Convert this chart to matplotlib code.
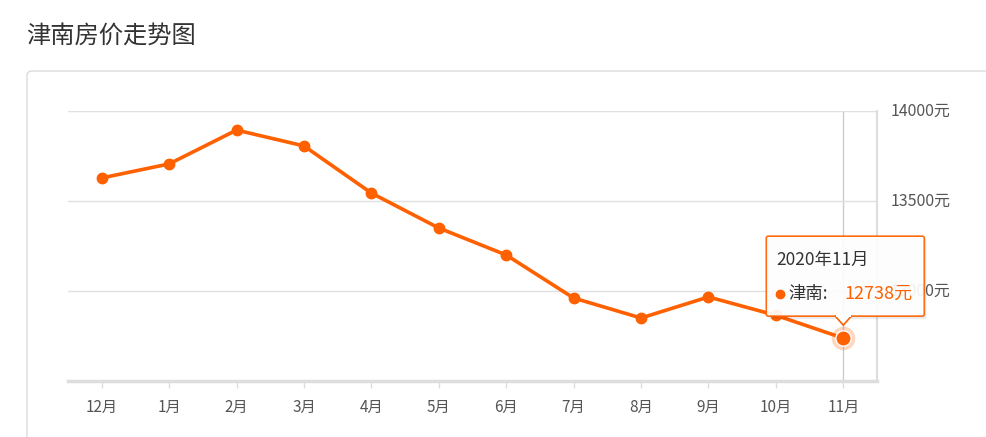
import matplotlib
matplotlib.use("Agg")
import matplotlib.pyplot as plt
from matplotlib.patches import FancyBboxPatch, Polygon, Rectangle

plt.rcParams['font.family'] = ['Noto Sans CJK SC', 'DejaVu Sans']

# data
months = ['12月', '1月', '2月', '3月', '4月', '5月', '6月', '7月', '8月', '9月', '10月', '11月']
prices = [13628, 13706, 13894, 13806, 13544, 13350, 13200, 12961, 12850, 12967, 12865, 12738]
y_ticks = [12500, 13000, 13500, 14000]
y_labels = ['', '13000元', '13500元', '14000元']
title = '津南房价走势图'
tip_title = '2020年11月'
tip_name = '津南:'
tip_value = '12738元'

W, H = 987, 437
orange = '#ff6000'
fig = plt.figure(figsize=(W / 100, H / 100), dpi=100)

# background layer in pixel coordinates
bg = fig.add_axes([0, 0, 1, 1], zorder=0)
bg.set_xlim(0, W)
bg.set_ylim(H, 0)
bg.axis('off')
bg.add_patch(FancyBboxPatch((27, 71), 1000, 420, boxstyle='round,pad=0,rounding_size=5',
                            fc='white', ec='#dcdcdc', lw=1))
bg.text(26, 36, title, fontsize=17.5, color='#333333', va='center', ha='left')

# main chart
ax = fig.add_axes([68 / W, (H - 381) / H, 809 / W, 270 / H], zorder=1)
ax.patch.set_alpha(0)
x = list(range(len(months)))
ax.set_xlim(-0.5, len(months) - 0.5)
ax.set_ylim(y_ticks[0], y_ticks[-1])
ax.set_yticks(y_ticks)
ax.set_yticklabels(y_labels)
ax.yaxis.tick_right()
ax.tick_params(axis='y', length=0, pad=10, labelsize=11.5, labelcolor='#555555')
ax.set_xticks(x)
ax.set_xticklabels(months)
ax.tick_params(axis='x', length=5, color='#dddddd', width=1, pad=8, labelsize=11, labelcolor='#555555')
for t in ax.get_yticklabels():
    t.set_va('center')
ax.grid(axis='y', color='#e0e0e0', lw=1)
for s in ['top', 'left']:
    ax.spines[s].set_visible(False)
ax.spines['bottom'].set_color('#dddddd')
ax.spines['bottom'].set_linewidth(2.5)
ax.spines['right'].set_color('#dddddd')
ax.spines['right'].set_linewidth(1.5)

# crosshair at last point
ax.axvline(x[-1], color='#cccccc', lw=1, zorder=1)

ax.plot(x, prices, color=orange, lw=2.6, marker='o', markersize=7.5, zorder=3, clip_on=False)
# highlighted last point
ax.plot(x[-1], prices[-1], 'o', color=orange, markersize=17, alpha=0.25, zorder=4, mec='none')
ax.plot(x[-1], prices[-1], 'o', color=orange, markersize=11, zorder=5, mec='white', mew=1)

# tooltip layer
top = fig.add_axes([0, 0, 1, 1], zorder=2)
top.set_xlim(0, W)
top.set_ylim(H, 0)
top.axis('off')
px, py = ax.transData.transform((x[-1], prices[-1]))
px_fig = px
py_fig = H - py
bx0, bx1 = px_fig - 77, px_fig + 81
by0, by1 = py_fig - 102, py_fig - 22
# shadow
top.add_patch(FancyBboxPatch((bx0 + 2, by0 + 3), bx1 - bx0, by1 - by0,
                             boxstyle='round,pad=0,rounding_size=2', fc='#000000', alpha=0.08, ec='none'))
top.add_patch(FancyBboxPatch((bx0, by0), bx1 - bx0, by1 - by0,
                             boxstyle='round,pad=0,rounding_size=2', fc='white', alpha=0.92,
                             ec=orange, lw=1.2))
top.add_patch(Polygon([(px_fig - 8, by1), (px_fig, by1 + 9), (px_fig + 8, by1)], closed=True,
                      fc='white', ec=orange, lw=1.2))
top.add_patch(Rectangle((px_fig - 7.5, by1 - 2), 15, 2.6, fc='white', ec='none'))
top.text(bx0 + 10, by0 + 24, tip_title, fontsize=12.5, color='#333333', va='center', ha='left')
top.plot(bx0 + 14, by0 + 58, 'o', color=orange, markersize=6)
top.text(bx0 + 22, by0 + 58, tip_name, fontsize=12.5, color='#333333', va='center', ha='left')
top.text(bx0 + 78, by0 + 58, tip_value, fontsize=13, color=orange, va='center', ha='left')

fig.savefig('out.png', dpi=100)
